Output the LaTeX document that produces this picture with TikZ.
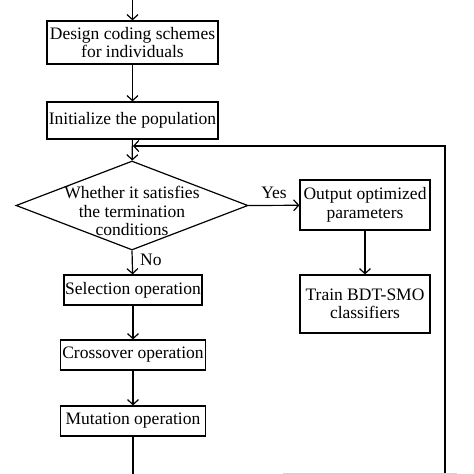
\documentclass[tikz,border=0pt]{standalone}
\usepackage{fontspec}
\setmainfont{Liberation Serif}
\usepackage{tikz}
\usetikzlibrary{shapes.geometric,arrows.meta}

\tikzset{
	box/.style={draw,line width=1.2pt,inner sep=1pt,align=center,font=\fontsize{17.5}{18.5}\selectfont},
	flow/.style={line width=1.2pt,-{Straight Barb[length=5pt,width=11pt]}},
	note/.style={font=\fontsize{17.5}{18.5}\selectfont}
}

\begin{document}
\begin{tikzpicture}[x=1pt,y=-1pt]
			\path[use as bounding box,clip] (0,0) rectangle (474,474);
			\node[box,minimum width=171,minimum height=43] (design) at (132.5,42.5) {Design coding schemes\\for individuals};
			\node[box,minimum width=171,minimum height=37] (init) at (132.5,120.5) {Initialize the population};
			\node[draw,diamond,line width=1.2pt,inner sep=0pt,minimum width=232,minimum height=89] (cond) at (132,205.5) {};
			\node[note,align=center] (condtext) at (132,211) {Whether it satisfies\\the termination\\conditions};
			\node[box,minimum width=130,minimum height=50] (output) at (365,205) {Output optimized\\parameters};
			\node[box,minimum width=130,minimum height=58] (train) at (365,304) {Train BDT-SMO\\classifiers};
			\node[box,minimum width=138,minimum height=30] (select) at (133,290) {Selection operation};
			\node[box,minimum width=145,minimum height=30] (cross) at (133,355) {Crossover operation};
			\node[box,minimum width=145,minimum height=30] (mutate) at (133,421) {Mutation operation};
			\coordinate (top) at (132.5,-2);
			\coordinate (bottom) at (133,482);
			\coordinate (back) at (445,480);
			\coordinate (join) at (133,146);
			\draw[flow] (top) -- (design);
			\draw[flow] (design) -- (init);
			\draw[flow] (init) -- (cond);
			\draw[flow] (cond.east) -- node[note,above=3pt] {Yes} (output);
			\draw[flow] (cond.south) -- node[note,right=4pt,pos=0.4] {No} (select);
			\draw[flow] (output) -- (train);
			\draw[flow] (select) -- (cross);
			\draw[flow] (cross) -- (mutate);
			\draw[flow] (mutate) -- (bottom);
			\draw[flow] (back) |- (join);
			\draw[gray!35,line width=3pt] (283,474) -- (457,474);
		\end{tikzpicture}
\end{document}
